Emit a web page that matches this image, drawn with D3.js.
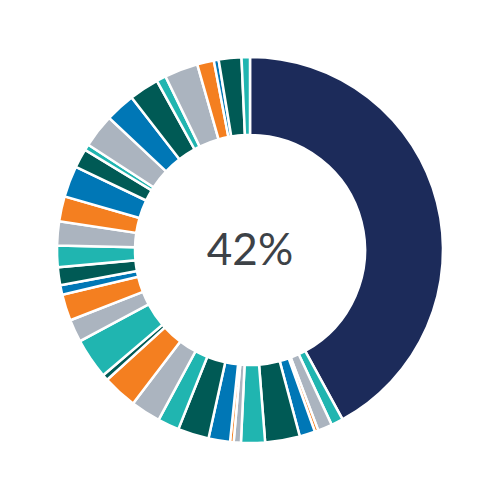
<!DOCTYPE html>
<html><head><meta charset="utf-8">
<script src="https://cdn.jsdelivr.net/npm/d3@7"></script>
<style>body{margin:0;background:#fff}</style>
</head><body><svg id="c" width="500" height="500"></svg>
<script>
var values = [42, 1.0, 1.2, 0.3, 1.3, 2.9, 2.0, 0.6, 0.3, 1.8, 2.6, 1.8, 2.5, 2.9, 0.5, 3.4, 1.9, 2.2, 0.8, 1.5,
  1.8, 2.0, 2.1, 2.6, 1.6, 0.5, 2.8, 2.5, 2.5, 0.8, 2.8, 1.4, 0.4, 1.9, 0.7];
var colorKeys = ['navy', 'teal', 'gray', 'orange', 'blue', 'dkgreen', 'teal', 'gray', 'orange', 'blue', 'dkgreen',
  'teal', 'gray', 'orange', 'dkgreen', 'teal', 'gray', 'orange', 'blue', 'dkgreen', 'teal', 'gray', 'orange', 'blue',
  'dkgreen', 'teal', 'gray', 'blue', 'dkgreen', 'teal', 'gray', 'orange', 'blue', 'dkgreen', 'teal'];
var label = '42%';

var palette = {navy: '#1c2b5a', teal: '#20b5b0', gray: '#abb4bf', orange: '#f47f20', blue: '#0077b6', dkgreen: '#005a55'};

var svg = d3.select('#c');
var g = svg.append('g').attr('transform', 'translate(250,250)');
var pie = d3.pie().sort(null).value(d => d);
var arc = d3.arc().innerRadius(115).outerRadius(193);

g.selectAll('path').data(pie(values)).enter().append('path')
  .attr('d', arc)
  .attr('fill', (d, i) => palette[colorKeys[i]])
  .attr('stroke', '#fff')
  .attr('stroke-width', 2.5);

g.append('text').attr('text-anchor', 'middle').attr('dy', '0.35em')
  .attr('font-family', 'Lato, sans-serif').attr('font-size', 44)
  .attr('fill', '#3d4247').text(label);
</script></body></html>
